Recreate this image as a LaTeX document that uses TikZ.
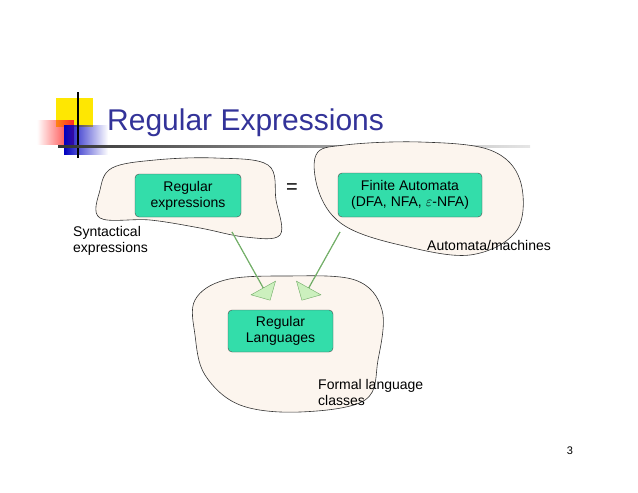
\documentclass[tikz,border=0pt]{standalone}
\usepackage{fontspec}
\setmainfont{Liberation Sans}
\usetikzlibrary{shapes.arrows,fadings}
\definecolor{titleblue}{RGB}{51,51,153}
\definecolor{boxgreen}{RGB}{51,221,170}
\definecolor{blobfill}{RGB}{252,245,238}
\definecolor{arrowgreen}{RGB}{204,240,190}
\definecolor{arrowline}{RGB}{110,170,100}
\tikzset{
  box/.style={draw=black!70, fill=boxgreen, rounded corners=4pt, align=center, font=\fontsize{14}{16}\selectfont, inner sep=0pt},
  blob/.style={draw=black!80, fill=blobfill, line width=0.6pt},
  lbl/.style={font=\fontsize{14}{16}\selectfont, align=left, anchor=west, inner sep=0pt},
  bigarrow/.style={single arrow, draw=arrowline, fill=arrowgreen, minimum width=28pt, single arrow head extend=7pt, minimum height=78pt, inner sep=0pt}
}
\begin{document}
\begin{tikzpicture}[x=1pt,y=-1pt]
\useasboundingbox (0,0) rectangle (638,493);
% logo
\fill[yellow!90!orange] (56,98) rectangle (93,127);
\fill[red!85, path fading=west] (37,120) rectangle (74,145);
\fill[blue!75!black, path fading=east] (64,125) rectangle (108,155);
\draw[line width=1.2pt] (78,92) -- (78,158);
\shade[left color=black!80, right color=black!10] (58,145) rectangle (530,147.5);
\node[anchor=base west, text=titleblue, font=\fontsize{30}{34}\selectfont, inner sep=0pt] (title) at (107,130) {Regular Expressions};
% blobs
\draw[blob] plot[smooth cycle, tension=0.6] coordinates {(100,190) (112,168) (155,160) (215,158) (268,165) (276,200) (280,235) (245,237) (200,228) (150,220) (100,218)};
\draw[blob] plot[smooth cycle, tension=0.6] coordinates {(316,155) (345,145) (420,142) (490,150) (520,180) (517,230) (470,255) (400,245) (345,226) (320,195)};
\draw[blob] plot[smooth cycle, tension=0.6] coordinates {(195,300) (225,280) (285,276) (355,280) (382,310) (378,360) (365,400) (300,412) (240,405) (205,375) (195,335)};
% boxes
\node[box, minimum width=106pt, minimum height=43pt] (re) at (188,195.5) {Regular\\expressions};
\node[box, minimum width=144pt, minimum height=44pt] (fa) at (410,195) {Finite Automata\\(DFA, NFA, $\varepsilon$-NFA)};
\node[box, minimum width=105pt, minimum height=42pt] (rl) at (280.5,331) {Regular\\Languages};
\node[font=\fontsize{20}{22}\selectfont, inner sep=0pt] (eq) at (292,189) {=};
% labels
\node[lbl] (syn) at (73,241) {Syntactical\\expressions};
\node[lbl] (aut) at (427,245) {Automata/machines};
\node[lbl] (flc) at (318,392) {Formal language\\classes};
\node[font=\fontsize{11}{13}\selectfont, inner sep=0pt] (pg) at (570,451) {3};
% arrows
\node[bigarrow, rotate=-60.8] (a1) at (251,266) {};
\node[bigarrow, rotate=-119.2] (a2) at (321,266) {};
\end{tikzpicture}
\end{document}
